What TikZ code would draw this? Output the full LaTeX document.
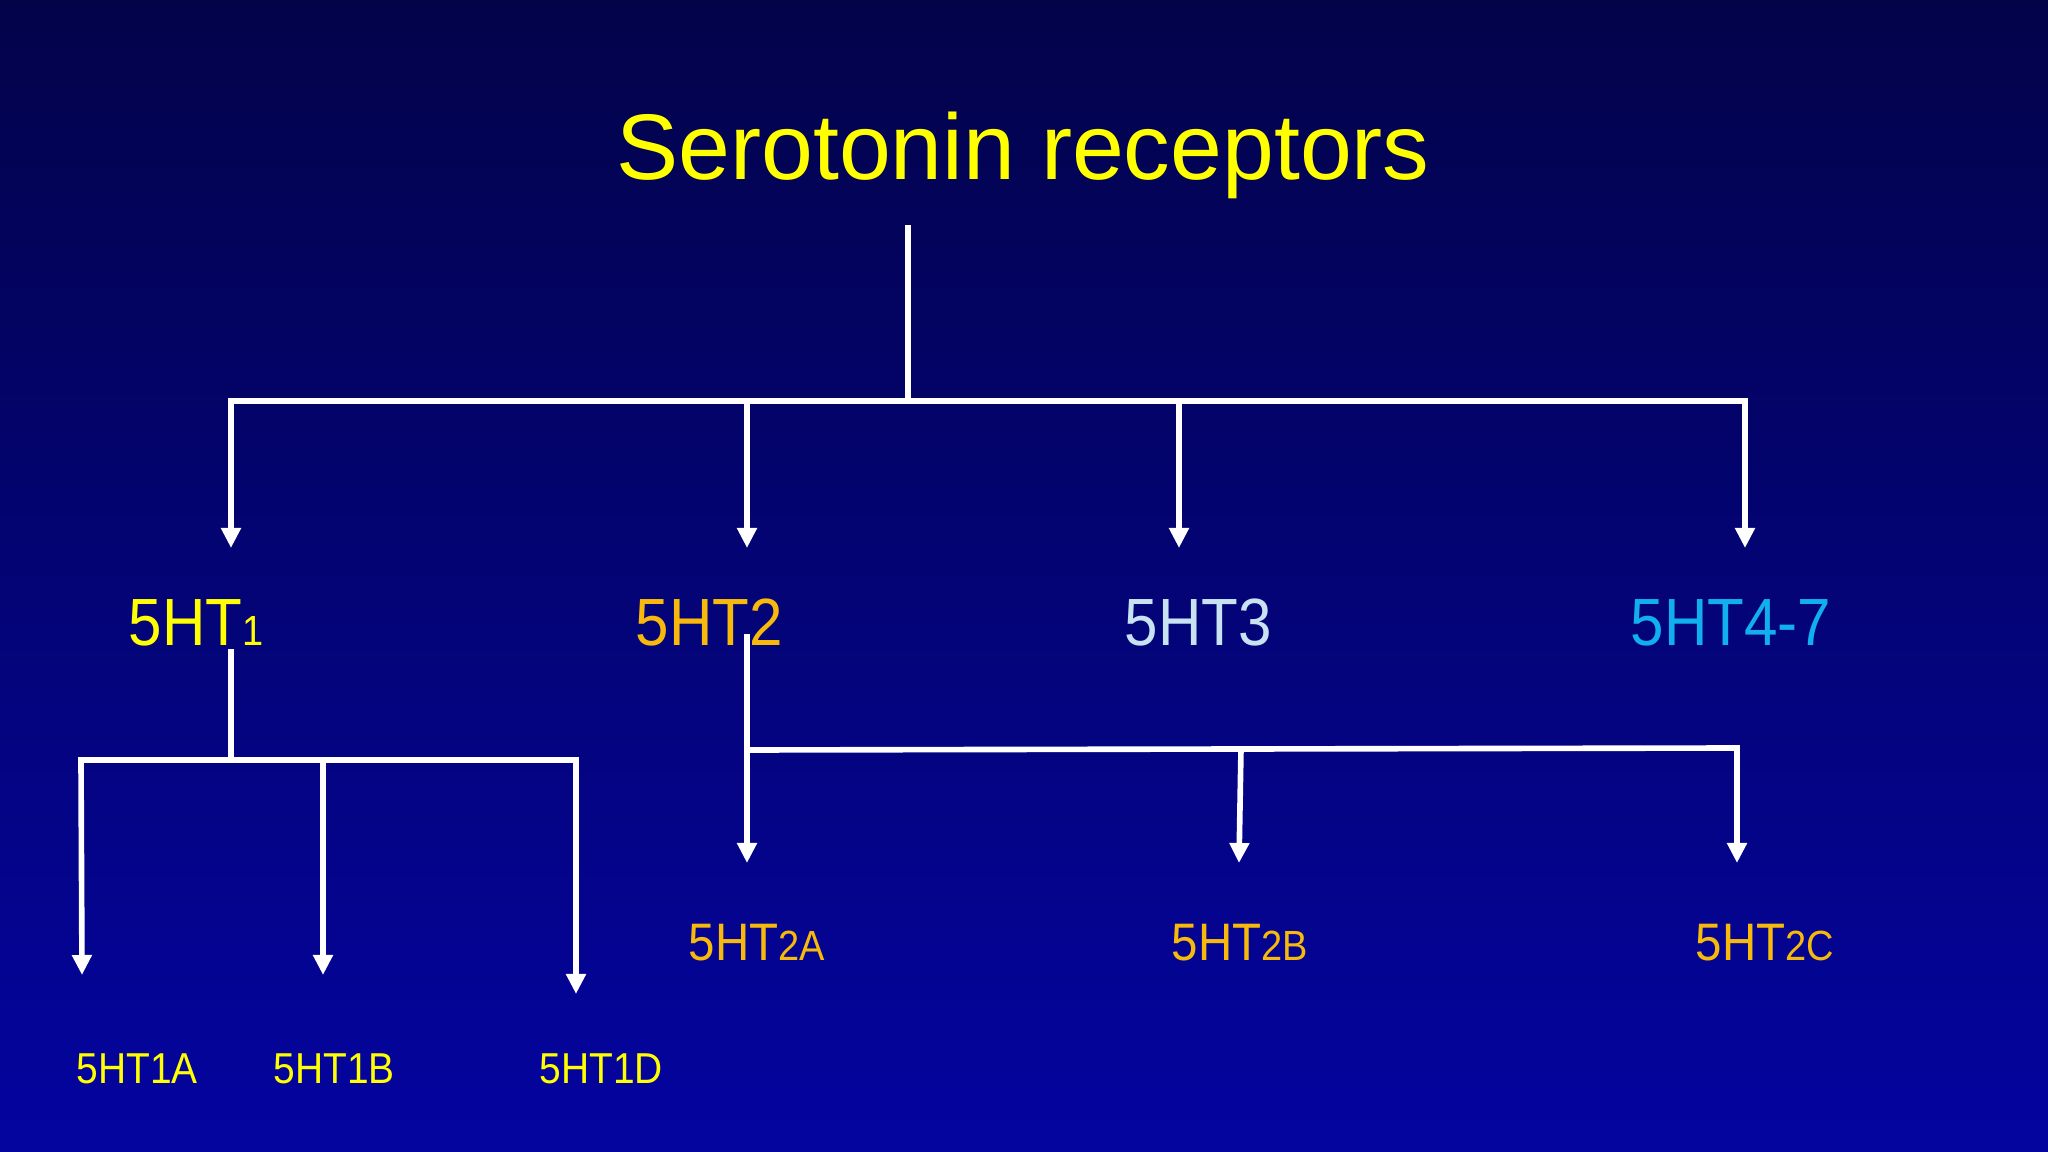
\documentclass[tikz,border=0pt]{standalone}
\usepackage{fontspec}
\usepackage{graphicx}
\setmainfont{Liberation Sans}
\usetikzlibrary{arrows.meta}
\definecolor{bgtop}{HTML}{03034A}
\definecolor{bgbot}{HTML}{0404A0}
\definecolor{ttlyellow}{HTML}{FFFF00}
\definecolor{gold}{HTML}{F7BA0C}
\definecolor{paleblue}{HTML}{C8E2F2}
\definecolor{cyanblue}{HTML}{12AFEE}
\newcommand{\narrowtxt}[1]{\scalebox{0.9}[1]{#1}}
\tikzset{
  lbl/.style={inner sep=0pt, anchor=base west},
  ln/.style={draw=white, line width=1.6pt, line cap=rect},
  arr/.style={draw=white, line width=1.6pt, -{Triangle[width=0.19cm,length=0.2cm]}},
  lvltwo/.style={lbl, font=\fontsize{19}{22}\selectfont},
  subone/.style={lbl, font=\fontsize{12.3}{14}\selectfont, text=ttlyellow},
  subtwo/.style={lbl, font=\fontsize{15}{17}\selectfont, text=gold}
}
\begin{document}
\begin{tikzpicture}[x=0.01cm, y=-0.01cm]
\shade[top color=bgtop, bottom color=bgbot] (0,0) rectangle (2048,1152);
\useasboundingbox (0,0) rectangle (2048,1152);

% title
\node[inner sep=0pt, anchor=base, text=ttlyellow, font=\fontsize{26.5}{30}\selectfont] (title) at (1023,180) {Serotonin receptors};

% level two
\node[lvltwo, text=ttlyellow] (n1) at (128,646) {\narrowtxt{5HT{\fontsize{12}{14}\selectfont 1}}};
\node[lvltwo, text=gold] (n2) at (635,646) {\narrowtxt{5HT2}};
\node[lvltwo, text=paleblue] (n3) at (1124,646) {\narrowtxt{5HT3}};
\node[lvltwo, text=cyanblue] (n47) at (1630,646) {\narrowtxt{5HT4-7}};

% level three, 5HT1 family
\node[subone] (a1A) at (76,1083) {\narrowtxt{5HT1A}};
\node[subone] (a1B) at (273,1083) {\narrowtxt{5HT1B}};
\node[subone] (a1D) at (539,1083) {\narrowtxt{5HT1D}};

% level three, 5HT2 family
\node[subtwo] (a2A) at (688,960) {\narrowtxt{5HT{\fontsize{12}{14}\selectfont 2A}}};
\node[subtwo] (a2B) at (1171,960) {\narrowtxt{5HT{\fontsize{12}{14}\selectfont 2B}}};
\node[subtwo] (a2C) at (1695,960) {\narrowtxt{5HT{\fontsize{12}{14}\selectfont 2C}}};

% coordinates of the tree
\coordinate (top) at (908,228);
\coordinate (barmid) at (908,401);
\coordinate (barL) at (231,401);
\coordinate (bar2) at (747,401);
\coordinate (bar3) at (1179,401);
\coordinate (barR) at (1745,401);
\coordinate (tip1) at (231,548);
\coordinate (tip2) at (747,548);
\coordinate (tip3) at (1179,548);
\coordinate (tip4) at (1745,548);

\coordinate (s1top) at (231,652);
\coordinate (s1mid) at (231,760);
\coordinate (s1L) at (81,760);
\coordinate (s1B) at (323,760);
\coordinate (s1R) at (576,760);
\coordinate (t1A) at (82,975);
\coordinate (t1B) at (323,975);
\coordinate (t1D) at (576,994);

\coordinate (s2top) at (747,637);
\coordinate (s2L) at (747,750);
\coordinate (s2B) at (1241,749);
\coordinate (s2R) at (1737,748);
\coordinate (t2A) at (747,863);
\coordinate (t2B) at (1239,863);
\coordinate (t2C) at (1737,863);

% top tree
\draw[ln] (top) -- (barmid);
\draw[ln] (barL) -- (barR);
\draw[arr] (barL) -- (tip1);
\draw[arr] (bar2) -- (tip2);
\draw[arr] (bar3) -- (tip3);
\draw[arr] (barR) -- (tip4);

% 5HT1 subtree
\draw[ln] (s1top) -- (s1mid);
\draw[ln] (s1L) -- (s1R);
\draw[arr] (s1L) -- (t1A);
\draw[arr] (s1B) -- (t1B);
\draw[arr] (s1R) -- (t1D);

% 5HT2 subtree
\draw[ln] (s2top) -- (s2L);
\draw[ln] (s2L) -- (s2R);
\draw[arr] (s2L) -- (t2A);
\draw[arr] (s2B) -- (t2B);
\draw[arr] (s2R) -- (t2C);
\end{tikzpicture}
\end{document}
